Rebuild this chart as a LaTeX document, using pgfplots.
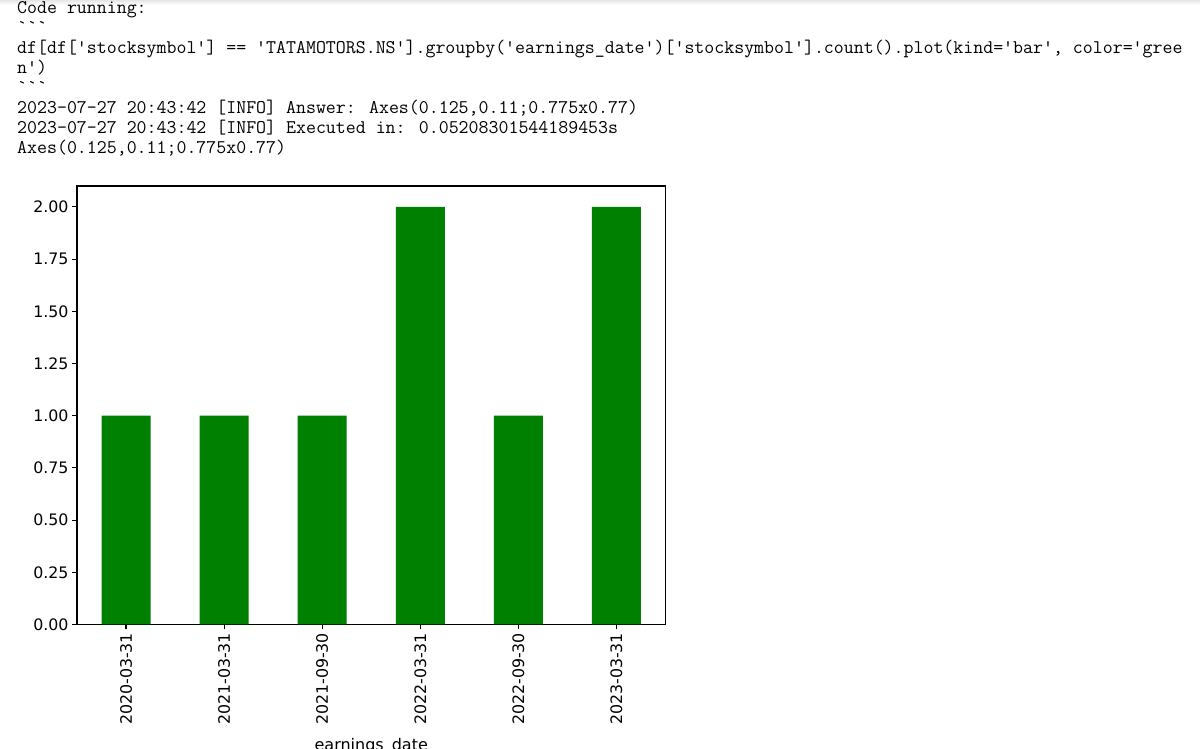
\documentclass[border=0pt]{standalone}
\usepackage{pgfplots}
\pgfplotsset{compat=1.18}
\usepackage{fontspec}
\setmainfont{DejaVu Sans}
\newcommand{\q}{\textquotesingle}
\newcommand{\bt}{\textasciigrave}
\definecolor{mplgreen}{RGB}{0,128,0}

\begin{document}
\begin{tikzpicture}[x=1pt,y=1pt]
  \useasboundingbox (0,0) rectangle (1200,749);
  % faint shadow along the top of the screenshot
  \shade[top color=black!10, bottom color=white] (0,744) rectangle (1200,749);

  % console output above the chart (Courier-like serif mono)
  \begin{scope}[every node/.style={anchor=base west, inner sep=0pt,
      font=\ttfamily\fontsize{19.34}{20}\selectfont\addfontfeatures{FakeBold=1.8}}]
    \node at (17,735) {Code running:};
    \node at (17,715) {\bt\bt\bt};
    \node at (17,695) {df[df[\q stocksymbol\q] == \q TATAMOTORS.NS\q].groupby(\q earnings\_date\q)[\q stocksymbol\q].count().plot(kind=\q bar\q, color=\q gree};
    \node at (17,675) {n\q)};
    \node at (17,655) {\bt\bt\bt};
    \node at (17,635) {2023-07-27 20:43:42 [INFO] Answer: Axes(0.125,0.11;0.775x0.77)};
    \node at (17,615) {2023-07-27 20:43:42 [INFO] Executed in: 0.05208301544189453s};
    \node at (17,595) {Axes(0.125,0.11;0.775x0.77)};
  \end{scope}

  \begin{axis}[
    at={(77pt,124.5pt)}, anchor=south west,
    scale only axis,
    width=588.5pt, height=438.5pt,
    xmin=-0.5, xmax=5.5,
    ymin=0, ymax=2.1,
    ybar, bar width=49pt,
    xtick={0,1,2,3,4,5},
    xticklabels={2020-03-31,2021-03-31,2021-09-30,2022-03-31,2022-09-30,2023-03-31},
    ytick={0,0.25,0.5,0.75,1,1.25,1.5,1.75,2},
    yticklabel style={/pgf/number format/.cd, fixed, fixed zerofill, precision=2},
    /pgf/number format/assume math mode=true,
    tick label style={font=\fontsize{15.8}{16}\selectfont, black},
    xticklabel style={rotate=90, anchor=east},
    tick align=outside, tick pos=left,
    major tick length=5pt,
    major tick style={line width=1.1pt, black},
    axis line style={line width=1.1pt, black},
  ]
    \addplot[fill=mplgreen, draw=none]
      coordinates {(0,1) (1,1) (2,1) (3,2) (4,1) (5,2)};
  \end{axis}

  % x label, cut by the bottom edge as in the screenshot
  \node[anchor=base, inner sep=0pt, font=\fontsize{16}{16}\selectfont]
    at (371.25,-2) {earnings\_date};
\end{tikzpicture}
\end{document}
